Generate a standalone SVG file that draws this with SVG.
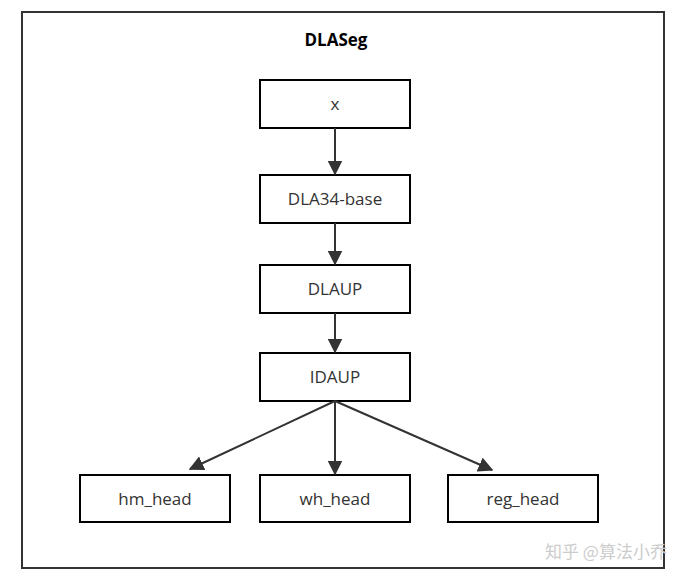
<svg xmlns="http://www.w3.org/2000/svg" width="676" height="582" viewBox="0 0 676 582">
<style>
.n rect{fill:#fff;stroke:#000;stroke-width:2}
.n text{font-family:"Open Sans","Liberation Sans",sans-serif;font-size:17px;fill:#333;text-anchor:middle}
.c line{stroke:#333;stroke-width:2;marker-end:url(#a)}
</style>
<defs><marker id="a" viewBox="0 0 10 10" refX="9" refY="5" markerWidth="7.5" markerHeight="7.5" orient="auto"><path d="M0,0L10,5L0,10z" fill="#333"/></marker></defs>
<rect x="0" y="0" width="676" height="582" fill="#fff"/>
<rect x="22" y="12" width="642" height="556" fill="#fff" stroke="#333" stroke-width="2"/>
<text x="336" y="46" font-family="Open Sans,Liberation Sans,sans-serif" font-size="17" font-weight="bold" text-anchor="middle">DLASeg</text>
<g id="x" class="n"><rect x="260" y="80" width="150" height="48"/><text x="335" y="110">x</text></g>
<g id="dla34" class="n"><rect x="260" y="175" width="150" height="48"/><text x="335" y="205">DLA34-base</text></g>
<g id="dlaup" class="n"><rect x="260" y="265" width="150" height="48"/><text x="335" y="295">DLAUP</text></g>
<g id="idaup" class="n"><rect x="260" y="353" width="150" height="48"/><text x="335" y="383">IDAUP</text></g>
<g id="hm" class="n"><rect x="80" y="475" width="150" height="47"/><text x="155" y="505">hm_head</text></g>
<g id="wh" class="n"><rect x="260" y="475" width="150" height="47"/><text x="335" y="505">wh_head</text></g>
<g id="reg" class="n"><rect x="448" y="475" width="150" height="47"/><text x="523" y="505">reg_head</text></g>
<g class="c">
<line x1="335" y1="128" x2="335" y2="174"/>
<line x1="335" y1="223" x2="335" y2="264"/>
<line x1="335" y1="313" x2="335" y2="352"/>
<line x1="335" y1="401" x2="190" y2="469"/>
<line x1="335" y1="401" x2="335" y2="474"/>
<line x1="335" y1="401" x2="492" y2="470"/>
</g>
<text x="606" y="558" font-family="Noto Sans CJK SC,sans-serif" font-size="17" fill="#ccc" text-anchor="middle">知乎 @算法小乔</text>
</svg>
